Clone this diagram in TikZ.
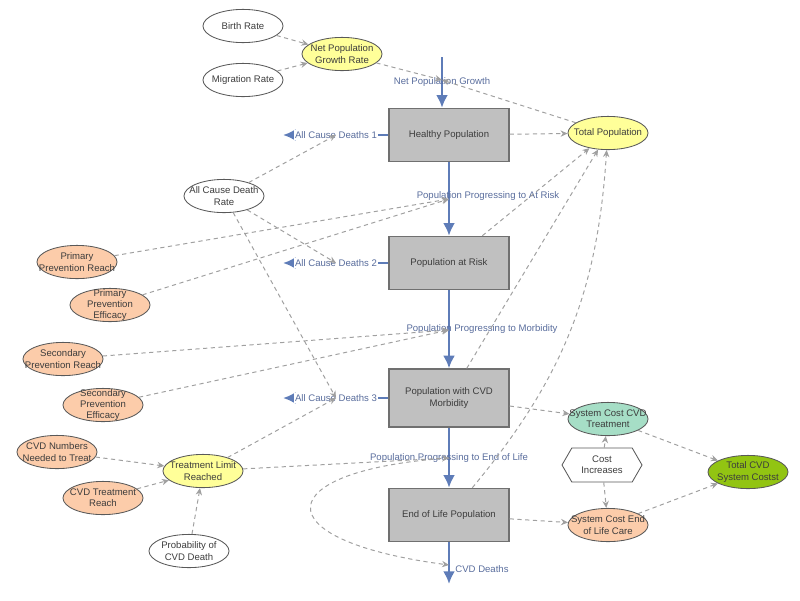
\documentclass[tikz,border=0pt]{standalone}
\usepackage{fontspec}
\setmainfont{Liberation Sans}
\usetikzlibrary{shapes.geometric, shapes.symbols, arrows.meta, positioning}
\definecolor{boxgray}{RGB}{192, 192, 192}
\definecolor{boxedge}{RGB}{112, 112, 112}
\definecolor{flowblue}{RGB}{94, 124, 184}
\definecolor{flowtext}{RGB}{88, 108, 156}
\definecolor{linkgray}{RGB}{160, 160, 160}
\definecolor{inktext}{RGB}{60, 60, 60}
\definecolor{varyellow}{RGB}{255, 255, 153}
\definecolor{varorange}{RGB}{252, 204, 170}
\definecolor{varmint}{RGB}{166, 222, 198}
\definecolor{vargreen}{RGB}{146, 196, 18}

\begin{document}
\begin{tikzpicture}[x=0.025cm, y=-0.025cm,
  every node/.style={font=\fontsize{6.8}{8}\selectfont, text=inktext, align=center},
  stock/.style={rectangle, draw=boxedge, fill=boxgray, line width=0.9pt,
                minimum width=3cm, minimum height=1.33cm},
  varlbl/.style={inner sep=0pt, align=center},
  var/.style={ellipse, draw=black!65, line width=0.6pt, fill=white,
              minimum width=2cm, minimum height=0.83cm, inner sep=0pt,
              label={[varlbl]center:#1}},
  flow/.style={line width=2pt, flowblue, -{Latex[length=9pt, width=8.5pt]}},
  flowlbl/.style={text=flowtext},
  link/.style={linkgray, line width=0.7pt, dash pattern=on 3pt off 2.5pt,
               -{Stealth[length=5pt, width=4.5pt]}}
]
  \useasboundingbox (0,0) rectangle (800,600);

  % ===== stocks =====
  \node[stock] (healthy) at (449,135) {Healthy Population};
  \node[stock] (atrisk)  at (449,263) {Population at Risk};
  \node[stock, minimum height=1.45cm] (morbid) at (449,398) {Population with CVD\\Morbidity};
  \node[stock] (eol)     at (449,515) {End of Life Population};

  % ===== variables =====
  \node[var={Birth Rate}] (birth) at (243,26) {};
  \node[var={Migration Rate}] (migr) at (243,80) {};
  \node[var={Net Population\\Growth Rate}, fill=varyellow] (netrate) at (342,54) {};
  \node[var={Total Population}, fill=varyellow] (totpop) at (608,133) {};
  \node[var={All Cause Death\\Rate}] (deathrate) at (224,196) {};

  \node[var={Primary\\Prevention Reach}, fill=varorange] (ppreach) at (77,262) {};
  \node[var={Primary\\Prevention\\Efficacy}, fill=varorange] (ppeff) at (110,305) {};
  \node[var={Secondary\\Prevention Reach}, fill=varorange] (spreach) at (63,359) {};
  \node[var={Secondary\\Prevention\\Efficacy}, fill=varorange] (speff) at (103,405) {};
  \node[var={CVD Numbers\\Needed to Treat}, fill=varorange] (cvdneed) at (57,452) {};
  \node[var={CVD Treatment\\Reach}, fill=varorange] (cvdreach) at (103,498) {};
  \node[var={Treatment Limit\\Reached}, fill=varyellow] (treatlim) at (203,471) {};
  \node[var={Probability of\\CVD Death}] (probdeath) at (189,551) {};

  \node[var={System Cost CVD\\Treatment}, fill=varmint] (costcvd) at (608,419) {};
  \node[signal, signal to=west and east, signal pointer angle=120, draw=black!65,
        line width=0.6pt, minimum width=2cm, minimum height=0.85cm, inner sep=0pt]
    (costup) at (602,465) {Cost\\Increases};
  \node[var={System Cost End\\of Life Care}, fill=varorange] (costeol) at (608,525) {};
  \node[var={Total CVD\\System Costst}, fill=vargreen] (costtot) at (748,472) {};

  % ===== flows =====
  \coordinate (growsrc) at (442,57);
  \coordinate (growmid) at (442,80);
  \coordinate (d1end) at (283,135);
  \coordinate (d2end) at (283,263);
  \coordinate (d3end) at (283,398);
  \coordinate (d1mid) at (336,135);
  \coordinate (d2mid) at (336,263);
  \coordinate (d3mid) at (336,398);
  \coordinate (riskmid) at (449,199);
  \coordinate (morbmid) at (449,330);
  \coordinate (eolmid)  at (449,458);
  \coordinate (cvdmid)  at (449,565);
  \coordinate (cvdend)  at (449,584);

  \draw[flow] (growsrc) -- (growsrc |- healthy.north);
  \draw[flow] (healthy) -- (atrisk);
  \draw[flow] (atrisk) -- (morbid);
  \draw[flow] (morbid) -- (eol);
  \draw[flow] (eol) -- (cvdend);
  \draw[flow] (healthy.west) -- (d1end);
  \draw[flow] (atrisk.west) -- (d2end);
  \draw[flow] (morbid.west) -- (d3end);

  \node[flowlbl] (growlbl) at (442,82)  {Net Population Growth};
  \node[flowlbl] (risklbl) at (488,196) {Population Progressing to At Risk};
  \node[flowlbl] (morblbl) at (482,329) {Population Progressing to Morbidity};
  \node[flowlbl] (eollbl)  at (449,458) {Population Progressing to End of Life};
  \node[flowlbl] (cvdlbl)  at (482,569) {CVD Deaths};
  \node[flowlbl, fill=white, inner sep=1pt] (d1lbl) at (336,135) {All Cause Deaths 1};
  \node[flowlbl, fill=white, inner sep=1pt] (d2lbl) at (336,263) {All Cause Deaths 2};
  \node[flowlbl, fill=white, inner sep=1pt] (d3lbl) at (336,398) {All Cause Deaths 3};

  % ===== links =====
  \draw[link] (birth) -- (netrate);
  \draw[link] (migr) -- (netrate);
  \draw[link] (netrate) -- (growmid);
  \draw[link] (totpop) -- (growmid);
  \draw[link] (healthy) -- (totpop);
  \draw[link] (atrisk) -- (totpop);
  \draw[link] (morbid) -- (totpop);
  \draw[link] (eol) to[bend right=18] (totpop);

  \draw[link] (deathrate) -- (d1mid);
  \draw[link] (deathrate) -- (d2mid);
  \draw[link] (deathrate) -- (d3mid);
  \draw[link] (ppreach) -- (riskmid);
  \draw[link] (ppeff) -- (riskmid);
  \draw[link] (spreach) -- (morbmid);
  \draw[link] (speff) -- (morbmid);

  \draw[link] (cvdneed) -- (treatlim);
  \draw[link] (cvdreach) -- (treatlim);
  \draw[link] (probdeath) -- (treatlim);
  \draw[link] (treatlim) -- (d3mid);
  \draw[link] (treatlim) -- (eolmid);
  \draw[link] (eolmid) .. controls (270,470) and (260,540) .. (cvdmid);

  \draw[link] (morbid) -- (costcvd);
  \draw[link] (eol) -- (costeol);
  \draw[link] (costup) -- (costcvd);
  \draw[link] (costup) -- (costeol);
  \draw[link] (costcvd) -- (costtot);
  \draw[link] (costeol) -- (costtot);

\end{tikzpicture}
\end{document}
